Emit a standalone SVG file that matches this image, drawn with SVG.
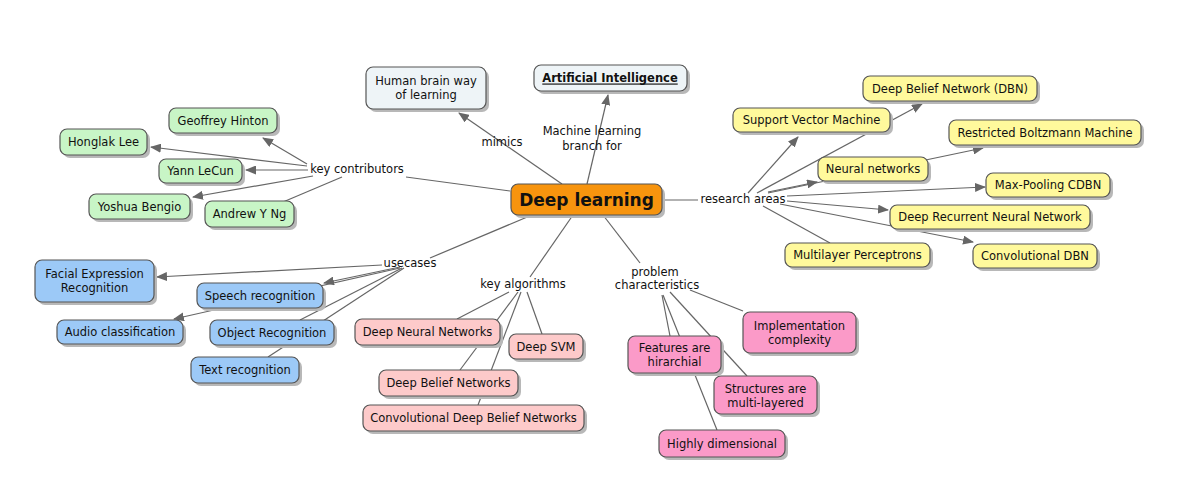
<svg xmlns="http://www.w3.org/2000/svg" width="1200" height="492" viewBox="0 0 1200 492">
<defs>
<marker id="ah" markerWidth="11" markerHeight="9" refX="10" refY="4.5" orient="auto" markerUnits="userSpaceOnUse">
<path d="M0,0 L11,4.5 L0,9 Z" fill="#666"/>
</marker>
<style>
text{font-family:"DejaVu Sans","Liberation Sans",sans-serif;font-size:11.5px;fill:#111;text-anchor:middle;dominant-baseline:central}
.sh{fill:#b8b8b8}
.b{stroke:#555;stroke-width:1.2}
.grey{fill:#eef4f7}
.org{fill:#f7940e}
.grn{fill:#c8f5c6}
.yel{fill:#fff99c}
.blu{fill:#9cc9f7}
.pnk{fill:#fdcaca}
.mag{fill:#fb9ac8}
.c line{stroke:#666;stroke-width:1.2}
.a{marker-end:url(#ah)}
</style>
</defs>
<rect width="1200" height="492" fill="#fff"/>
<g id="connectors" class="c">
<line x1="510" y1="191" x2="406" y2="177"/>
<line class="a" x1="307" y1="164" x2="263" y2="138"/>
<line class="a" x1="307" y1="166" x2="151" y2="147"/>
<line class="a" x1="308" y1="170" x2="246" y2="170"/>
<line class="a" x1="313" y1="176" x2="193" y2="197"/>
<line x1="342" y1="177" x2="283" y2="202"/>
<line class="a" x1="562" y1="184" x2="459" y2="113"/>
<line class="a" x1="587" y1="184" x2="608" y2="95"/>
<line x1="662" y1="200" x2="698" y2="200"/>
<line class="a" x1="748" y1="193" x2="798" y2="137"/>
<line class="a" x1="757" y1="193" x2="922" y2="104"/>
<line class="a" x1="768" y1="192" x2="817" y2="182"/>
<line class="a" x1="768" y1="193" x2="983" y2="148"/>
<line class="a" x1="787" y1="196" x2="985" y2="187"/>
<line class="a" x1="787" y1="201" x2="888" y2="210"/>
<line class="a" x1="780" y1="204" x2="973" y2="242"/>
<line x1="763" y1="206" x2="830" y2="243"/>
<line x1="532" y1="215" x2="430" y2="258"/>
<line class="a" x1="382" y1="265" x2="157" y2="277"/>
<line class="a" x1="400" y1="267" x2="324" y2="283"/>
<line class="a" x1="400" y1="268" x2="174" y2="319"/>
<line x1="402" y1="268" x2="300" y2="320"/>
<line x1="404" y1="268" x2="268" y2="357"/>
<line x1="573" y1="215" x2="530" y2="277"/>
<line x1="509" y1="292" x2="457" y2="319"/>
<line x1="518" y1="292" x2="460" y2="370"/>
<line x1="521" y1="292" x2="478" y2="405"/>
<line x1="527" y1="292" x2="542" y2="334"/>
<line x1="603" y1="215" x2="640" y2="263"/>
<line x1="690" y1="290" x2="743" y2="311"/>
<line x1="662" y1="295" x2="670" y2="336"/>
<line x1="663" y1="295" x2="717" y2="430"/>
<line x1="670" y1="292" x2="747" y2="376"/>
</g>
<g id="lbl-key-contributors"><text x="357" y="169">key contributors</text></g>
<g id="lbl-mimics"><text x="502" y="142">mimics</text></g>
<g id="lbl-ml-branch"><text x="592" y="131">Machine learning</text><text x="592" y="146">branch for</text></g>
<g id="lbl-research-areas"><text x="743" y="199">research areas</text></g>
<g id="lbl-usecases"><text x="410" y="263">usecases</text></g>
<g id="lbl-key-algorithms"><text x="523" y="284">key algorithms</text></g>
<g id="lbl-problem"><text x="655" y="272">problem</text><text x="657" y="285">characteristics</text></g>

<g id="n-human"><rect class="sh" x="369" y="70" width="120" height="42" rx="7"/><rect class="b grey" x="366" y="67" width="120" height="42" rx="7"/><text x="426" y="81">Human brain way</text><text x="426" y="95">of learning</text></g>
<g id="n-ai"><rect class="sh" x="537" y="68" width="153" height="26" rx="7"/><rect class="b grey" x="534" y="65" width="153" height="26" rx="7"/><text x="610" y="77.5" font-weight="bold" text-decoration="underline">Artificial Intelligence</text></g>
<g id="n-deep"><rect class="sh" x="514" y="187" width="151" height="31" rx="7"/><rect class="b org" x="511" y="184" width="151" height="31" rx="7"/><text x="586.5" y="199.5" font-weight="bold" style="font-size:17px">Deep learning</text></g>

<g id="n-hinton"><rect class="sh" x="172" y="111" width="108" height="25" rx="7"/><rect class="b grn" x="169" y="108" width="108" height="25" rx="7"/><text x="223" y="120.5">Geoffrey Hinton</text></g>
<g id="n-honglak"><rect class="sh" x="63" y="132" width="87" height="26" rx="7"/><rect class="b grn" x="60" y="129" width="87" height="26" rx="7"/><text x="103.5" y="142">Honglak Lee</text></g>
<g id="n-yann"><rect class="sh" x="162" y="162" width="83" height="24" rx="7"/><rect class="b grn" x="159" y="159" width="83" height="24" rx="7"/><text x="200.5" y="171">Yann LeCun</text></g>
<g id="n-yoshua"><rect class="sh" x="92" y="197" width="101" height="25" rx="7"/><rect class="b grn" x="89" y="194" width="101" height="25" rx="7"/><text x="139.5" y="206.5">Yoshua Bengio</text></g>
<g id="n-andrew"><rect class="sh" x="208" y="204" width="89" height="26" rx="7"/><rect class="b grn" x="205" y="201" width="89" height="26" rx="7"/><text x="249.5" y="214">Andrew Y Ng</text></g>

<g id="n-svm"><rect class="sh" x="736" y="111" width="157" height="24" rx="7"/><rect class="b yel" x="733" y="108" width="157" height="24" rx="7"/><text x="811.5" y="120">Support Vector Machine</text></g>
<g id="n-dbn"><rect class="sh" x="866" y="79" width="174" height="25" rx="7"/><rect class="b yel" x="863" y="76" width="174" height="25" rx="7"/><text x="950" y="88.5">Deep Belief Network (DBN)</text></g>
<g id="n-rbm"><rect class="sh" x="952" y="123" width="192" height="25" rx="7"/><rect class="b yel" x="949" y="120" width="192" height="25" rx="7"/><text x="1045" y="132.5">Restricted Boltzmann Machine</text></g>
<g id="n-nn"><rect class="sh" x="821" y="160" width="110" height="24" rx="7"/><rect class="b yel" x="818" y="157" width="110" height="24" rx="7"/><text x="873" y="169">Neural networks</text></g>
<g id="n-maxpool"><rect class="sh" x="989" y="176" width="124" height="24" rx="7"/><rect class="b yel" x="986" y="173" width="124" height="24" rx="7"/><text x="1048" y="185">Max-Pooling CDBN</text></g>
<g id="n-drnn"><rect class="sh" x="893" y="208" width="200" height="24" rx="7"/><rect class="b yel" x="890" y="205" width="200" height="24" rx="7"/><text x="990" y="217">Deep Recurrent Neural Network</text></g>
<g id="n-mlp"><rect class="sh" x="788" y="246" width="145" height="24" rx="7"/><rect class="b yel" x="785" y="243" width="145" height="24" rx="7"/><text x="857.5" y="255">Multilayer Perceptrons</text></g>
<g id="n-convdbn"><rect class="sh" x="976" y="247" width="124" height="24" rx="7"/><rect class="b yel" x="973" y="244" width="124" height="24" rx="7"/><text x="1035" y="256">Convolutional DBN</text></g>

<g id="n-facial"><rect class="sh" x="38" y="263" width="119" height="42" rx="7"/><rect class="b blu" x="35" y="260" width="119" height="42" rx="7"/><text x="94.5" y="274">Facial Expression</text><text x="94.5" y="288">Recognition</text></g>
<g id="n-speech"><rect class="sh" x="200" y="286" width="126" height="25" rx="7"/><rect class="b blu" x="197" y="283" width="126" height="25" rx="7"/><text x="260" y="295.5">Speech recognition</text></g>
<g id="n-audio"><rect class="sh" x="60" y="323" width="126" height="24" rx="7"/><rect class="b blu" x="57" y="320" width="126" height="24" rx="7"/><text x="120" y="332">Audio classification</text></g>
<g id="n-object"><rect class="sh" x="213" y="323" width="124" height="25" rx="7"/><rect class="b blu" x="210" y="320" width="124" height="25" rx="7"/><text x="272" y="332.5">Object Recognition</text></g>
<g id="n-text"><rect class="sh" x="194" y="360" width="108" height="26" rx="7"/><rect class="b blu" x="191" y="357" width="108" height="26" rx="7"/><text x="245" y="370">Text recognition</text></g>

<g id="n-dnn"><rect class="sh" x="358" y="322" width="145" height="26" rx="7"/><rect class="b pnk" x="355" y="319" width="145" height="26" rx="7"/><text x="427.5" y="332">Deep Neural Networks</text></g>
<g id="n-dsvm"><rect class="sh" x="512" y="337" width="74" height="25" rx="7"/><rect class="b pnk" x="509" y="334" width="74" height="25" rx="7"/><text x="546" y="346.5">Deep SVM</text></g>
<g id="n-dbns"><rect class="sh" x="382" y="373" width="139" height="26" rx="7"/><rect class="b pnk" x="379" y="370" width="139" height="26" rx="7"/><text x="448.5" y="383">Deep Belief Networks</text></g>
<g id="n-cdbns"><rect class="sh" x="366" y="408" width="221" height="26" rx="7"/><rect class="b pnk" x="363" y="405" width="221" height="26" rx="7"/><text x="473.5" y="418">Convolutional Deep Belief Networks</text></g>

<g id="n-impl"><rect class="sh" x="746" y="315" width="113" height="41" rx="7"/><rect class="b mag" x="743" y="312" width="113" height="41" rx="7"/><text x="799.5" y="325.5">Implementation</text><text x="799.5" y="339.5">complexity</text></g>
<g id="n-feat"><rect class="sh" x="631" y="339" width="93" height="37" rx="7"/><rect class="b mag" x="628" y="336" width="93" height="37" rx="7"/><text x="674.5" y="348">Features are</text><text x="674.5" y="362">hirarchial</text></g>
<g id="n-struct"><rect class="sh" x="717" y="379" width="103" height="38" rx="7"/><rect class="b mag" x="714" y="376" width="103" height="38" rx="7"/><text x="765.5" y="388.5">Structures are</text><text x="765.5" y="402.5">multi-layered</text></g>
<g id="n-high"><rect class="sh" x="662" y="433" width="126" height="27" rx="7"/><rect class="b mag" x="659" y="430" width="126" height="27" rx="7"/><text x="722" y="443.5">Highly dimensional</text></g>
</svg>
